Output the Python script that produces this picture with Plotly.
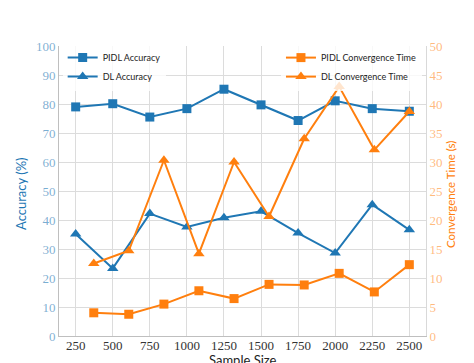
import plotly.graph_objects as go

sample_size = [250, 500, 750, 1000, 1250, 1500, 1750, 2000, 2250, 2500]
time_x = [372, 608, 845, 1081, 1318, 1554, 1791, 2027, 2264, 2500]
pidl_acc = [79.0, 80.1, 75.5, 78.4, 85.1, 79.7, 74.3, 81.1, 78.4, 77.5]
dl_acc = [35.2, 23.3, 42.2, 37.6, 40.8, 43.0, 35.5, 28.6, 45.3, 36.6]
pidl_time = [4.0, 3.75, 5.5, 7.8, 6.45, 8.9, 8.8, 10.8, 7.6, 12.3]
dl_time = [12.5, 14.7, 30.3, 14.2, 30.0, 20.6, 34.0, 43.0, 32.1, 38.7]
x_ticks = [250, 500, 750, 1000, 1250, 1500, 1750, 2000, 2250, 2500]

BLUE = "#1f77b4"
ORANGE = "#ff7f0e"
SERIF = "Liberation Serif"
SANS = "Lato"

fig = go.Figure()
fig.add_trace(go.Scatter(x=sample_size, y=pidl_acc, name="PIDL Accuracy", mode="lines+markers",
                         line=dict(color=BLUE, width=2), marker=dict(symbol="square", size=9, color=BLUE),
                         legend="legend"))
fig.add_trace(go.Scatter(x=sample_size, y=dl_acc, name="DL Accuracy", mode="lines+markers",
                         line=dict(color=BLUE, width=2), marker=dict(symbol="triangle-up", size=10, color=BLUE),
                         legend="legend"))
fig.add_trace(go.Scatter(x=time_x, y=pidl_time, name="PIDL Convergence Time", mode="lines+markers",
                         line=dict(color=ORANGE, width=2), marker=dict(symbol="square", size=9, color=ORANGE),
                         yaxis="y2", legend="legend2"))
fig.add_trace(go.Scatter(x=time_x, y=dl_time, name="DL Convergence Time", mode="lines+markers",
                         line=dict(color=ORANGE, width=2), marker=dict(symbol="triangle-up", size=10, color=ORANGE),
                         yaxis="y2", legend="legend2"))

fig.update_layout(
    width=466, height=355,
    margin=dict(l=51, r=48, t=38, b=26.5),
    paper_bgcolor="white", plot_bgcolor="white",
    xaxis=dict(range=[137.5, 2612.5], tickvals=x_ticks, showgrid=True, gridcolor="#dcdcdc", gridwidth=1,
               zeroline=False, showline=True, linecolor="#bfbfbf", linewidth=1, mirror=False,
               ticks="", automargin=False, ticklabelstandoff=-3,
               tickfont=dict(family=SERIF, size=13, color="#333333")),
    yaxis=dict(range=[0, 100], dtick=10, showgrid=True, gridcolor="#dcdcdc", zeroline=False,
               showline=True, linecolor="#bfbfbf", linewidth=1, ticks="", automargin=False,
               tickfont=dict(family=SERIF, size=13, color="rgba(31,119,180,0.6)")),
    yaxis2=dict(range=[0, 50], dtick=5, overlaying="y", side="right", showgrid=False, zeroline=False,
                showline=True, linecolor="#d9d9d9", linewidth=1, ticks="", automargin=False,
                tickfont=dict(family=SERIF, size=13, color="rgba(255,127,14,0.55)")),
    legend=dict(x=0.01, y=1.01, xanchor="left", yanchor="top", bgcolor="rgba(255,255,255,0.8)",
                font=dict(family=SANS, size=9, color="#222222"), tracegroupgap=0, itemwidth=30),
    legend2=dict(x=0.989, y=1.01, xanchor="right", yanchor="top", bgcolor="rgba(255,255,255,0.8)",
                 font=dict(family=SANS, size=9, color="#222222"), tracegroupgap=0, itemwidth=30),
    showlegend=True,
    annotations=[
        dict(text="Sample Size", xref="paper", yref="paper", x=0.5, y=0, xanchor="center", yanchor="top",
             yshift=-14, showarrow=False, font=dict(family=SANS, size=13, color="#222222")),
        dict(text="Accuracy (%)", xref="paper", yref="paper", x=0, y=0.5, xanchor="center", yanchor="middle",
             xshift=-38, yshift=-3, textangle=-90, showarrow=False, font=dict(family=SANS, size=13, color=BLUE)),
        dict(text="Convergence Time (s)", xref="paper", yref="paper", x=1, y=0.5, xanchor="center",
             yanchor="middle", xshift=24, yshift=-4, textangle=-90, showarrow=False,
             font=dict(family=SANS, size=11.5, color=ORANGE)),
    ],
)

fig.write_html("out.html")
